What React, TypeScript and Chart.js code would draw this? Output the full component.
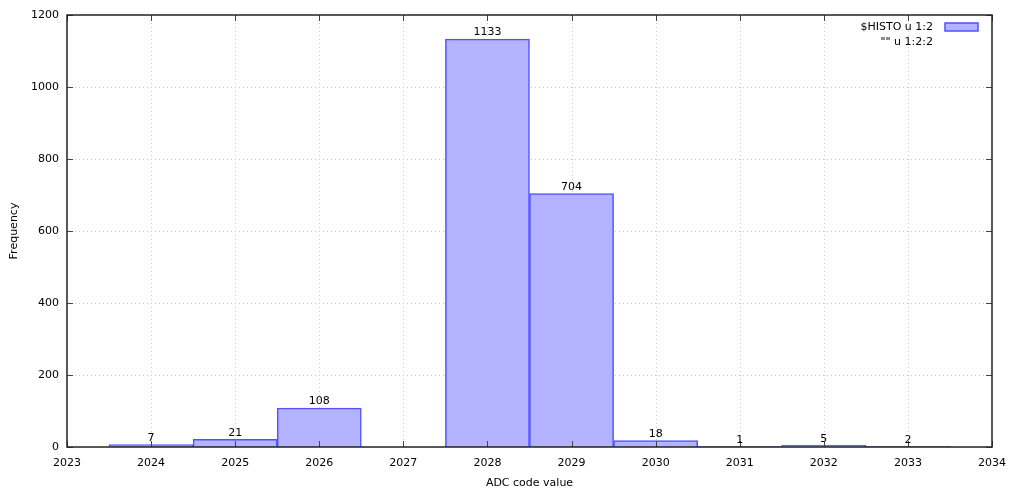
import React, { useEffect, useRef } from "react";
import { Chart, registerables } from "chart.js";

Chart.register(...registerables);

const binCenters = [2024, 2025, 2026, 2028, 2029, 2030, 2031, 2032, 2033];
const counts = [7, 21, 108, 1133, 704, 18, 1, 5, 2];
const xTicks = [2023, 2024, 2025, 2026, 2027, 2028, 2029, 2030, 2031, 2032, 2033, 2034];
const yTicks = [0, 200, 400, 600, 800, 1000, 1200];
const legendLabels = ["$HISTO u 1:2", '"" u 1:2:2'];
const xTitle = "ADC code value";
const yTitle = "Frequency";

const FONT = "'DejaVu Sans', sans-serif";

const gnuplotPlugin = {
  id: "gnuplotDecor",
  beforeDatasetsDraw(chart: any) {
    const { ctx, chartArea: a, scales } = chart;
    ctx.save();
    ctx.strokeStyle = "#c8c8c8";
    ctx.lineWidth = 1;
    ctx.setLineDash([1, 3]);
    for (const t of xTicks) {
      const x = Math.round(scales.x.getPixelForValue(t)) + 0.5;
      if (t === xTicks[0] || t === xTicks[xTicks.length - 1]) continue;
      ctx.beginPath();
      ctx.moveTo(x, a.top);
      ctx.lineTo(x, a.bottom);
      ctx.stroke();
    }
    for (const t of yTicks) {
      const y = Math.round(scales.y.getPixelForValue(t)) + 0.5;
      if (t === yTicks[0] || t === yTicks[yTicks.length - 1]) continue;
      ctx.beginPath();
      ctx.moveTo(a.left, y);
      ctx.lineTo(a.right, y);
      ctx.stroke();
    }
    ctx.restore();
  },
  afterDatasetsDraw(chart: any) {
    const { ctx, chartArea: a, scales } = chart;
    ctx.save();
    // ticks (inward, mirrored)
    ctx.strokeStyle = "#444";
    ctx.lineWidth = 1;
    const tl = 6;
    for (const t of xTicks) {
      const x = Math.round(scales.x.getPixelForValue(t)) + 0.5;
      ctx.beginPath();
      ctx.moveTo(x, a.bottom);
      ctx.lineTo(x, a.bottom - tl);
      ctx.moveTo(x, a.top);
      ctx.lineTo(x, a.top + tl);
      ctx.stroke();
    }
    for (const t of yTicks) {
      const y = Math.round(scales.y.getPixelForValue(t)) + 0.5;
      ctx.beginPath();
      ctx.moveTo(a.left, y);
      ctx.lineTo(a.left + tl, y);
      ctx.moveTo(a.right, y);
      ctx.lineTo(a.right - tl, y);
      ctx.stroke();
    }
    // frame
    ctx.strokeStyle = "#222";
    ctx.lineWidth = 1.5;
    ctx.strokeRect(a.left, a.top, a.right - a.left, a.bottom - a.top);

    // value labels
    ctx.fillStyle = "#000";
    ctx.font = `11px ${FONT}`;
    ctx.textAlign = "center";
    ctx.textBaseline = "bottom";
    binCenters.forEach((c, i) => {
      const x = scales.x.getPixelForValue(c);
      const y = scales.y.getPixelForValue(counts[i]);
      ctx.fillText(String(counts[i]), x, y - 1);
    });

    // legend
    ctx.textAlign = "right";
    ctx.textBaseline = "middle";
    ctx.fillText(legendLabels[0], 933, 27);
    ctx.fillText(legendLabels[1], 933, 42);
    ctx.fillStyle = "#b3b3ff";
    ctx.fillRect(945, 23, 33, 8);
    ctx.strokeStyle = "#5050ff";
    ctx.lineWidth = 1.5;
    ctx.strokeRect(945, 23, 33, 8);

    // axis titles
    ctx.fillStyle = "#000";
    ctx.textAlign = "center";
    ctx.textBaseline = "middle";
    ctx.fillText(xTitle, (a.left + a.right) / 2, 483);
    ctx.translate(14, (a.top + a.bottom) / 2);
    ctx.rotate(-Math.PI / 2);
    ctx.fillText(yTitle, 0, 0);
    ctx.restore();
  },
};

export default function App() {
  const ref = useRef<HTMLCanvasElement>(null);
  useEffect(() => {
    const canvas = ref.current!;
    const chart = new Chart(canvas, {
      type: "bar",
      data: {
        datasets: [
          {
            label: legendLabels[0],
            data: binCenters.map((c, i) => ({ x: c, y: counts[i] })),
            backgroundColor: "#b3b3ff",
            borderColor: "#5050ff",
            borderWidth: 1.5,
            barPercentage: 1,
            categoryPercentage: 1,
          } as any,
        ],
      },
      options: {
        responsive: false,
        animation: false,
        events: [],
        layout: { padding: { left: 0, right: 21, top: 15, bottom: 0 } },
        plugins: { legend: { display: false }, tooltip: { enabled: false } },
        scales: {
          x: {
            type: "linear",
            min: 2023,
            max: 2034,
            offset: false,
            grid: { display: false, drawTicks: false },
            border: { display: false },
            afterFit: (s: any) => {
              s.height = 45;
              s.paddingLeft = 0;
              s.paddingRight = 0;
            },
            afterBuildTicks: (s: any) => {
              s.ticks = xTicks.map((v) => ({ value: v }));
            },
            ticks: {
              color: "#000",
              font: { family: FONT, size: 11 },
              padding: 10,
              maxRotation: 0,
              autoSkip: false,
              callback: (v: any) => String(v),
            },
          },
          y: {
            type: "linear",
            min: 0,
            max: 1200,
            grid: { display: false, drawTicks: false },
            border: { display: false },
            afterFit: (s: any) => {
              s.width = 67;
              s.paddingTop = 0;
              s.paddingBottom = 0;
            },
            afterBuildTicks: (s: any) => {
              s.ticks = yTicks.map((v) => ({ value: v }));
            },
            ticks: {
              color: "#000",
              font: { family: FONT, size: 11 },
              padding: 8,
              callback: (v: any) => String(v),
            },
          },
        },
      },
      plugins: [gnuplotPlugin],
    } as any);
    return () => chart.destroy();
  }, []);
  return (
    <div style={{ position: "fixed", left: 0, top: 0, width: 1013, height: 492, background: "#fff" }}>
      <canvas ref={ref} width={1013} height={492} style={{ display: "block" }} />
    </div>
  );
}
